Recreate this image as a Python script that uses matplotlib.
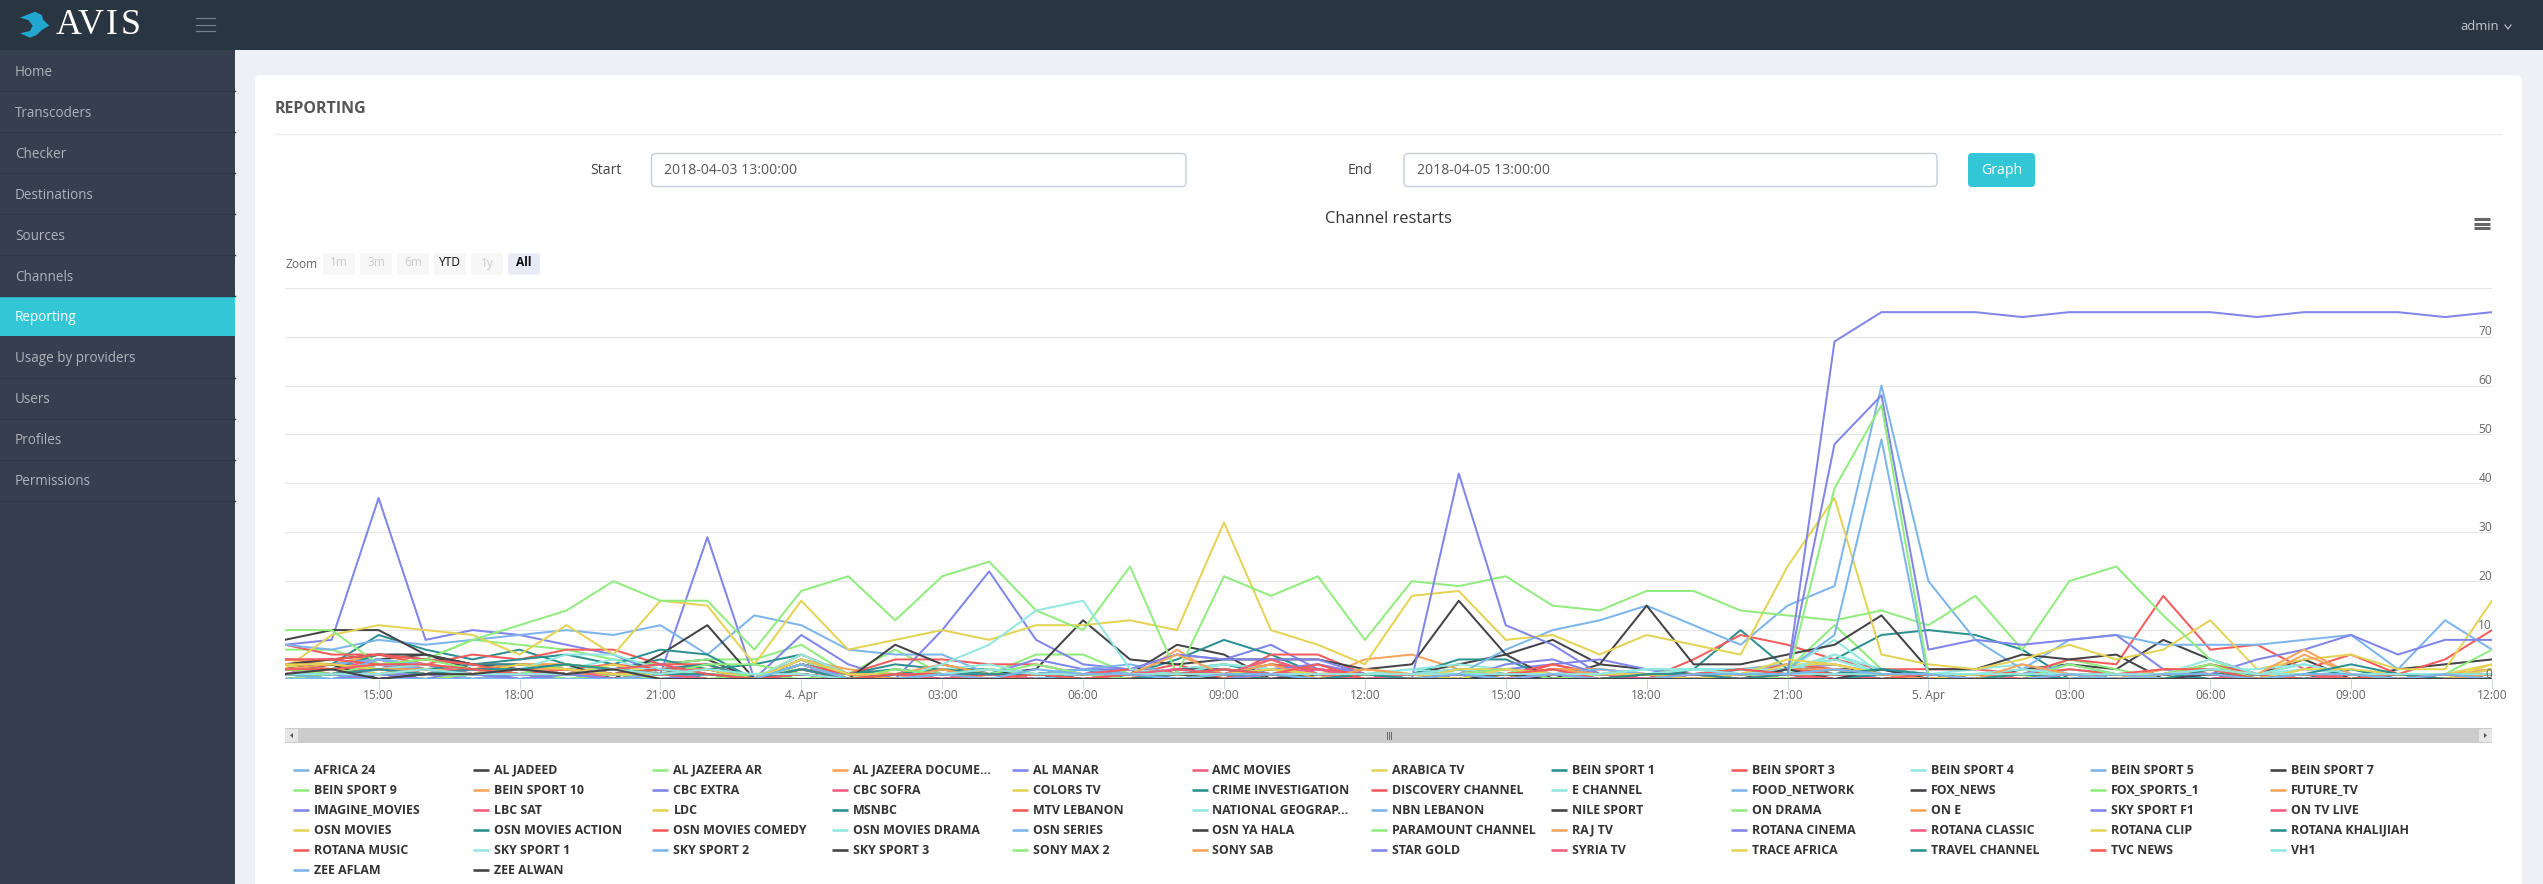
import matplotlib
matplotlib.use('Agg')
import matplotlib.pyplot as plt
from matplotlib.patches import FancyBboxPatch, Rectangle

plt.rcParams['font.family'] = ['Open Sans', 'DejaVu Sans']

# hourly restarts, 2018-04-03 13:00 to 2018-04-05 12:00
africa_24 = [2,1,2,1,1,0,1,1,0,0,0,2, 0,0,1,0,0,1,0,0,1,0,1,0, 0,0,1,1,0,0,1,0,1,2,1,0, 0,0,1,0,0,1,0,0,1,0,0,0]
al_jadeed = [3,3,4,5,3,2,2,2,3,4,0,3, 1,0,1,0,1,2,1,7,5,0,0,1, 1,3,5,8,3,2,1,0,1,2,2,0, 0,2,3,2,8,4,1,4,0,2,3,4]
al_jazeera_ar = [6,6,3,4,8,7,6,4,3,4,4,7, 1,6,1,1,5,5,1,0,1,0,1,1, 0,0,1,0,1,0,0,1,2,11,2,0, 1,0,4,2,0,1,0,0,1,0,0,1]
al_jazeera_doc = [3,3,5,3,2,3,3,1,2,1,0,4, 2,1,2,0,1,1,0,6,0,4,0,4, 5,2,0,2,2,1,0,1,1,1,1,0, 0,0,1,0,2,2,0,0,1,0,0,1]
al_manar = [7,8,37,8,10,9,7,5,1,29,0,9, 3,0,10,22,8,3,2,5,4,7,2,1, 1,1,2,3,4,2,0,0,1,1,2,0, 0,0,0,1,1,1,0,0,0,1,0,0]
amc_movies = [2,3,4,2,2,1,3,1,1,1,0,3, 1,0,1,1,0,0,1,1,0,2,3,1, 0,1,2,1,0,1,0,1,2,3,1,0, 0,1,0,0,1,1,0,1,0,0,1,0]
arabica_tv = [4,3,2,3,1,2,2,3,0,1,0,4, 0,2,1,0,1,1,1,1,2,0,1,0, 1,0,1,2,1,0,1,0,1,2,1,0, 1,0,1,1,0,2,0,1,1,0,1,2]
bein_sport_1 = [2,3,9,6,4,6,3,2,4,2,3,5, 1,3,2,2,1,1,1,4,8,5,1,1, 1,4,4,0,0,0,2,10,2,4,9,10, 9,6,0,0,0,1,0,0,1,0,0,0]
bein_sport_3 = [7,5,5,3,5,4,6,6,3,3,0,2, 1,4,4,3,3,1,1,3,0,5,5,1, 0,1,0,3,1,0,4,9,7,4,2,2, 2,1,4,3,17,6,7,2,5,1,4,10]
bein_sport_4 = [1,2,3,2,1,2,1,0,1,0,0,5, 1,0,0,2,1,1,2,1,3,2,0,1, 2,3,2,1,1,2,2,2,2,8,1,1, 2,3,1,0,0,2,1,0,1,1,0,1]
bein_sport_5 = [7,6,8,7,8,9,10,9,11,5,13,11, 6,5,5,1,1,2,3,1,1,2,1,1, 1,1,6,10,12,15,11,7,15,19,60,20, 8,2,8,9,7,7,7,8,9,2,12,6]
bein_sport_7 = [8,10,10,5,2,1,2,0,5,11,0,4, 0,7,3,1,2,12,4,3,4,4,4,2, 3,16,5,0,3,15,3,3,5,7,13,2, 2,5,4,5,0,0,0,0,1,1,0,0]
bein_sport_9 = [1,0,2,1,1,2,0,1,0,1,0,2, 0,0,1,0,1,0,0,2,1,0,0,1, 1,0,1,1,1,0,0,1,2,1,1,0, 0,0,1,1,0,1,1,0,0,0,1,1]
bein_sport_10 = [2,2,1,3,1,2,2,2,1,0,0,3, 1,0,2,1,1,0,1,2,1,2,1,0, 0,1,0,1,1,1,0,0,1,0,0,1, 1,1,0,0,1,1,0,2,1,0,1,2]
cbc_extra = [1,2,1,0,1,1,2,1,0,0,0,1, 0,0,0,1,1,1,0,1,0,1,0,0, 0,0,1,1,0,0,1,1,2,3,1,0, 0,1,1,0,0,0,1,0,1,0,0,1]
cbc_sofra = [3,2,4,2,1,3,2,1,1,0,0,2, 1,1,0,0,1,0,1,1,1,0,2,0, 0,1,1,0,0,1,1,0,1,1,0,1, 0,0,1,0,1,1,0,1,0,1,0,0]
colors_tv = [2,9,11,10,9,5,11,5,16,15,3,16, 6,8,10,8,11,11,12,10,32,10,7,3, 17,18,8,9,5,9,7,5,23,37,5,3, 2,4,7,4,6,12,2,4,5,2,2,16]
crime_investigation = [1,2,5,4,3,4,5,3,6,5,0,3, 1,2,1,1,1,2,0,1,1,3,2,1, 0,1,1,0,0,0,1,1,0,2,1,0, 1,1,0,0,1,1,0,1,1,0,0,0]
discovery_channel = [4,4,5,4,3,3,2,3,2,3,0,2, 1,1,0,1,0,1,2,1,1,1,0,0, 1,0,0,1,1,0,1,1,1,1,0,0, 0,1,1,0,1,2,0,0,1,0,1,0]
e_channel = [1,1,3,1,1,2,2,2,2,1,0,4, 1,0,1,1,1,0,1,1,2,1,2,0, 1,2,2,1,1,1,2,1,1,5,1,0, 1,1,0,1,1,3,1,2,1,0,1,0]
food_network = [2,3,4,2,0,1,1,2,0,1,0,3, 0,1,0,0,1,2,1,1,0,1,0,0, 1,1,0,2,1,0,1,1,2,1,0,0, 0,0,2,1,0,1,1,1,0,1,0,2]
fox_news = [1,1,0,1,1,1,0,0,1,2,0,1, 0,0,1,0,0,1,0,0,0,1,0,1, 0,0,1,0,0,1,0,0,2,2,1,0, 0,1,0,0,1,0,1,0,0,0,0,1]
fox_sports_1 = [10,10,3,4,8,11,14,20,16,16,6,18, 21,12,21,24,14,10,23,1,21,17,21,8, 20,19,21,15,14,18,18,14,13,12,14,11, 17,6,20,23,13,4,0,0,1,0,1,6]
future_tv = [3,2,1,2,2,3,3,2,1,1,0,5, 1,0,2,1,0,1,1,2,1,3,1,2, 1,1,0,1,1,0,0,0,1,2,0,0, 0,1,0,0,2,1,0,5,1,1,0,1]
imagine_movies = [1,2,3,1,0,1,2,1,0,0,0,3, 1,0,0,1,4,2,2,5,4,4,4,1, 0,42,11,7,1,0,1,0,1,1,2,1, 0,0,1,0,0,1,0,0,1,0,0,0]
lbc_sat = [2,1,0,1,2,1,1,0,1,0,0,2, 0,1,1,0,0,1,0,1,1,1,2,0, 0,0,1,1,0,0,0,1,1,1,0,0, 0,0,1,0,0,0,1,0,1,0,1,0]
ldc = [1,2,1,2,1,2,2,2,1,1,0,3, 0,1,0,0,1,1,1,0,1,1,1,1, 1,2,1,0,1,0,1,2,3,2,1,0, 1,0,1,1,0,2,1,1,0,1,0,2]
msnbc = [2,1,3,3,1,2,1,1,2,3,0,4, 0,1,1,1,0,0,1,2,3,1,1,0, 0,2,1,0,0,0,1,1,1,2,0,1, 0,1,1,0,0,1,1,0,1,0,0,1]
mtv_lebanon = [3,4,3,2,1,0,1,1,2,2,0,1, 0,1,2,0,0,1,1,0,1,2,1,0, 1,0,1,2,1,1,1,0,1,1,0,0, 1,1,0,0,0,1,0,1,1,0,1,0]
national_geo = [2,1,1,2,2,1,2,4,1,1,0,4, 0,0,2,3,1,1,1,2,3,2,1,1, 2,1,2,1,1,2,2,1,1,2,1,1, 1,2,1,1,0,3,1,1,0,1,1,1]
nbn_lebanon = [1,1,4,3,1,0,1,1,1,0,0,2, 0,0,1,1,0,1,2,1,0,0,1,0, 0,1,2,0,0,1,0,2,3,2,0,0, 0,1,1,0,1,1,0,0,2,0,0,1]
nile_sport = [3,4,5,5,3,2,1,1,2,1,0,3, 0,1,0,1,0,1,0,2,2,0,1,0, 0,0,1,1,1,0,0,1,1,0,0,1, 0,0,1,1,0,1,1,0,0,1,0,0]
on_drama = [1,0,1,0,1,1,0,0,1,3,3,1, 0,1,1,0,1,0,0,1,1,0,0,1, 0,1,0,0,1,1,0,0,1,1,0,0, 0,1,0,0,1,1,1,0,0,0,1,0]
on_e = [2,2,3,2,2,3,2,2,1,1,0,3, 1,1,1,0,0,1,0,1,0,1,1,0, 0,1,0,2,2,1,1,0,0,1,1,0, 1,0,0,1,1,2,0,1,1,0,0,1]
sky_sport_f1 = [0,1,1,1,0,1,0,0,1,0,0,1, 0,0,0,1,0,0,1,0,1,0,0,0, 0,0,1,2,0,0,0,1,1,2,1,0, 0,0,1,0,0,0,0,1,1,0,0,1]
on_tv_live = [1,3,2,1,1,2,2,1,0,1,0,2, 1,1,0,0,0,1,1,1,1,0,2,1, 0,0,1,1,0,0,1,0,1,1,0,0, 0,1,0,0,1,1,0,0,1,0,1,0]
osn_movies = [3,1,0,0,1,2,2,2,0,1,0,3, 0,1,2,1,1,0,0,1,1,2,0,1, 1,0,1,1,0,1,0,1,2,1,1,1, 0,1,1,0,1,1,0,1,0,1,0,3]
osn_action = [0,1,3,2,1,2,1,0,1,1,0,3, 1,0,0,0,1,1,0,1,1,0,1,0, 1,2,1,0,0,0,1,0,1,1,2,1, 0,0,1,0,1,0,0,0,1,1,0,0]
osn_comedy = [2,1,3,1,2,1,1,1,2,1,0,3, 0,0,1,0,0,1,0,2,1,3,2,1, 0,1,1,3,1,0,1,1,3,2,1,0, 0,1,2,1,1,1,0,1,0,0,1,1]
osn_drama = [1,2,2,1,1,1,2,2,1,1,0,5, 1,0,1,1,1,1,1,1,2,1,1,1, 1,2,1,1,1,2,2,2,2,4,1,1, 1,1,1,1,1,2,2,3,1,1,1,1]
osn_series = [1,1,3,2,0,1,1,1,1,0,0,4, 1,0,0,1,1,2,1,0,1,1,1,0, 1,1,1,0,1,0,0,1,2,1,0,0, 0,1,3,1,0,1,1,0,1,0,1,0]
osn_ya_hala = [2,3,0,1,2,2,3,0,1,2,0,1, 0,0,1,0,1,0,1,0,1,1,0,1, 0,1,0,1,0,1,0,0,2,1,0,0, 0,1,0,0,1,2,0,0,0,1,0,0]
paramount = [0,1,1,0,1,2,0,1,0,1,1,0, 1,0,2,1,0,1,0,1,0,1,0,0, 1,0,1,0,1,0,1,0,1,1,1,1, 0,0,3,1,0,3,1,0,1,0,1,0]
raj_tv = [1,1,1,2,2,2,1,1,1,2,0,2, 0,1,3,1,0,1,0,1,2,1,0,1, 0,0,1,2,2,1,0,1,2,2,1,1, 0,1,0,0,2,1,1,1,0,0,1,0]
sky_sport_2 = [1,0,2,1,1,2,1,0,1,0,0,2, 0,0,1,1,0,1,1,0,1,1,0,0, 1,0,1,1,2,1,0,0,2,9,49,0, 0,1,0,1,0,1,0,0,1,1,0,0]
rotana_cinema = [2,1,0,1,1,0,1,2,3,1,0,2, 1,0,1,0,0,1,2,0,1,2,3,1, 0,0,3,4,1,0,1,0,1,48,58,6, 8,7,8,9,2,1,4,6,9,5,8,8]
rotana_classic = [1,2,2,3,1,1,2,0,1,2,0,3, 0,0,1,1,1,0,0,1,2,1,2,1, 0,1,0,1,1,0,0,1,0,1,0,0, 1,0,0,0,1,2,0,1,0,0,0,1]
rotana_clip = [2,2,1,0,2,2,1,3,1,2,0,3, 1,0,1,2,1,0,1,1,0,1,1,1, 0,2,2,1,0,0,1,0,3,3,1,0, 1,1,0,0,0,2,0,1,1,0,1,1]
rotana_khalijiah = [1,1,2,2,3,3,2,1,2,0,0,3, 1,1,2,1,0,1,1,0,1,1,0,0, 1,1,1,0,0,1,1,2,1,0,1,1, 0,1,0,1,1,1,1,0,2,0,1,0]
rotana_music = [4,4,5,4,3,1,2,1,2,1,0,3, 1,0,0,1,1,1,2,1,0,1,1,0, 0,1,2,1,0,0,1,1,2,1,1,1, 0,0,1,1,1,3,1,0,0,1,1,1]
sky_sport_1 = [1,1,2,3,2,2,5,5,2,1,0,3, 0,0,3,7,14,16,2,1,3,2,1,1, 1,1,2,1,0,1,2,1,2,5,2,1, 1,2,1,0,1,4,1,3,1,1,1,1]
sky_sport_3 = [2,3,0,1,2,2,1,2,1,0,0,2, 0,0,1,0,1,0,0,1,0,0,1,0, 0,0,1,0,0,1,1,0,2,0,2,0, 0,0,1,0,0,1,0,0,0,0,0,1]
sony_max_2 = [2,1,3,4,2,1,3,2,1,0,1,2, 0,2,1,1,3,1,0,0,1,1,1,1, 1,1,2,0,1,1,1,1,0,39,56,1, 1,1,0,0,1,3,0,1,1,0,0,1]
sony_sab = [2,3,2,2,1,2,2,1,1,0,0,4, 1,0,2,0,1,1,1,5,1,3,0,2, 1,1,1,2,1,1,0,0,1,2,1,0, 0,3,1,0,1,2,1,6,1,1,0,1]
star_gold = [0,0,1,0,2,0,1,0,0,1,0,1, 0,0,1,0,1,0,1,0,0,1,0,0, 0,1,0,1,0,0,1,1,1,69,75,75, 75,74,75,75,75,75,74,75,75,75,74,75]
syria_tv = [1,1,2,1,2,2,1,2,1,0,0,2, 0,1,0,1,0,0,1,2,1,4,1,0, 1,0,0,1,0,1,1,0,1,0,0,0, 0,0,1,1,1,1,0,0,1,0,0,0]
trace_africa = [3,3,2,1,1,3,2,1,1,1,0,4, 1,1,1,0,1,1,1,1,1,2,1,1, 1,0,2,1,1,1,0,1,4,3,1,1, 0,1,1,0,1,2,0,2,2,1,1,3]
travel_channel = [1,1,2,1,2,2,3,2,1,1,0,2, 0,1,1,1,1,0,0,1,2,1,0,1, 0,1,0,0,0,1,1,0,1,1,2,1, 0,1,0,0,0,2,0,1,3,1,0,0]
tvc_news = [2,2,3,3,2,1,1,2,3,1,0,1, 0,1,1,0,1,0,1,1,2,1,3,0, 0,1,1,2,0,0,1,2,1,0,0,1, 0,0,1,1,2,2,0,1,0,0,1,1]
vh1 = [1,1,1,2,1,1,1,2,1,2,1,1, 0,0,1,2,1,1,1,1,1,1,1,1, 1,1,1,1,1,2,2,1,1,1,1,1, 1,1,1,1,1,2,1,1,1,1,1,1]
zee_aflam = [0,0,0,0,0,0,0,0,0,0,0,3, 0,0,1,0,2,1,1,0,1,1,0,0, 0,1,0,1,0,0,1,1,1,2,1,1, 0,0,1,0,1,1,0,1,1,0,1,0]
zee_alwan = [1,2,0,1,1,2,1,2,0,0,0,0, 0,0,0,0,0,0,0,0,0,0,0,0, 0,0,0,0,0,0,0,0,0,0,0,0, 0,0,0,0,0,0,0,0,0,0,0,0]

series_names = ['AFRICA 24', 'AL JADEED', 'AL JAZEERA AR', 'AL JAZEERA DOCUME...', 'AL MANAR', 'AMC MOVIES',
                'ARABICA TV', 'BEIN SPORT 1', 'BEIN SPORT 3', 'BEIN SPORT 4', 'BEIN SPORT 5', 'BEIN SPORT 7',
                'BEIN SPORT 9', 'BEIN SPORT 10', 'CBC EXTRA', 'CBC SOFRA', 'COLORS TV', 'CRIME INVESTIGATION',
                'DISCOVERY CHANNEL', 'E CHANNEL', 'FOOD_NETWORK', 'FOX_NEWS', 'FOX_SPORTS_1', 'FUTURE_TV',
                'IMAGINE_MOVIES', 'LBC SAT', 'LDC', 'MSNBC', 'MTV LEBANON', 'NATIONAL GEOGRAP...',
                'NBN LEBANON', 'NILE SPORT', 'ON DRAMA', 'ON E', 'SKY SPORT F1', 'ON TV LIVE',
                'OSN MOVIES', 'OSN MOVIES ACTION', 'OSN MOVIES COMEDY', 'OSN MOVIES DRAMA', 'OSN SERIES', 'OSN YA HALA',
                'PARAMOUNT CHANNEL', 'RAJ TV', 'ROTANA CINEMA', 'ROTANA CLASSIC', 'ROTANA CLIP', 'ROTANA KHALIJIAH',
                'ROTANA MUSIC', 'SKY SPORT 1', 'SKY SPORT 2', 'SKY SPORT 3', 'SONY MAX 2', 'SONY SAB',
                'STAR GOLD', 'SYRIA TV', 'TRACE AFRICA', 'TRAVEL CHANNEL', 'TVC NEWS', 'VH1',
                'ZEE AFLAM', 'ZEE ALWAN']
series_values = [africa_24, al_jadeed, al_jazeera_ar, al_jazeera_doc, al_manar, amc_movies,
                 arabica_tv, bein_sport_1, bein_sport_3, bein_sport_4, bein_sport_5, bein_sport_7,
                 bein_sport_9, bein_sport_10, cbc_extra, cbc_sofra, colors_tv, crime_investigation,
                 discovery_channel, e_channel, food_network, fox_news, fox_sports_1, future_tv,
                 imagine_movies, lbc_sat, ldc, msnbc, mtv_lebanon, national_geo,
                 nbn_lebanon, nile_sport, on_drama, on_e, sky_sport_f1, on_tv_live,
                 osn_movies, osn_action, osn_comedy, osn_drama, osn_series, osn_ya_hala,
                 paramount, raj_tv, rotana_cinema, rotana_classic, rotana_clip, rotana_khalijiah,
                 rotana_music, sky_sport_1, sky_sport_2, sky_sport_3, sony_max_2, sony_sab,
                 star_gold, syria_tv, trace_africa, travel_channel, tvc_news, vh1,
                 zee_aflam, zee_alwan]
palette = ['#7cb5ec', '#434348', '#90ed7d', '#f7a35c', '#8085e9', '#f15c80', '#e4d354', '#2b908f', '#f45b5b', '#91e8e1']

hours = list(range(48))
x_ticks = [2, 5, 8, 11, 14, 17, 20, 23, 26, 29, 32, 35, 38, 41, 44, 47]
x_labels = ['15:00', '18:00', '21:00', '4. Apr', '03:00', '06:00', '09:00', '12:00',
            '15:00', '18:00', '21:00', '5. Apr', '03:00', '06:00', '09:00', '12:00']
y_ticks = [0, 10, 20, 30, 40, 50, 60, 70]
menu_items = ['Home', 'Transcoders', 'Checker', 'Destinations', 'Sources', 'Channels',
              'Reporting', 'Usage by providers', 'Users', 'Profiles', 'Permissions']
zoom_buttons = ['1m', '3m', '6m', 'YTD', '1y', 'All']

W, H = 2543, 884


def pt(px):
    return px * 72 / 100


def box(ax, x0, y0, x1, y1, color, edge='none', r=0, z=1):
    ax.add_patch(FancyBboxPatch((x0, y0), x1 - x0, y1 - y0, boxstyle='round,pad=0,rounding_size=%g' % max(r, 0.01),
                                fc=color, ec=edge, lw=1, zorder=z))


fig = plt.figure(figsize=(W / 100, H / 100), dpi=100, facecolor='#edf0f5')

# page furniture, in pixel coordinates
bg = fig.add_axes([0, 0, 1, 1])
bg.set_xlim(0, W)
bg.set_ylim(H, 0)
bg.axis('off')

bg.add_patch(Rectangle((0, 0), W, 50, fc='#2a3542', ec='none'))
bg.add_patch(Rectangle((0, 50), 235, H - 50, fc='#353f4f', ec='none'))
bird_x = [35, 41.7, 43.3, 49.3, 41.7, 36.7, 30, 20, 30, 32.7, 28.3, 20, 28.3]
bird_y = [11.7, 15, 20, 25.7, 30, 35, 37.7, 33.3, 31, 25.7, 20, 17.7, 14.3]
bg.fill(bird_x, bird_y, color='#22a7d0', lw=0)
for x, letter in zip([56, 78, 106, 120.5], 'AVIS'):
    bg.text(x, 25, letter, color='white', fontsize=pt(36), family='Liberation Serif', va='center', ha='left')
for y in [18, 24.5, 31]:
    bg.plot([196, 215], [y, y], color='#75808c', lw=0.9)
bg.text(2460, 27, 'admin', color='#c3c8ce', fontsize=pt(13), va='center')
bg.plot([2505, 2508, 2511], [25, 29, 25], color='#c3c8ce', lw=0.8)

# sidebar
for i, item in enumerate(menu_items):
    y = 72.5 + 41 * i - (1 if i >= 6 else 0)
    if i == 6:
        bg.add_patch(Rectangle((0, 296), 235, 40, fc='#33c6d6', ec='none'))
    else:
        bg.plot([0, 235], [50 + 41 * (i + 1)] * 2, color='#2f3847', lw=1)
    bg.text(15, y, item, color='white' if i == 6 else '#aeb3ba', fontsize=pt(13.5), va='center')

# card and form
box(bg, 255, 75, 2522, H + 10, 'white', r=6)
bg.text(275, 109, 'REPORTING', color='#555555', fontsize=pt(16), fontweight='bold', va='center')
bg.plot([275, 2502], [134, 134], color='#eeeeee', lw=1)
bg.text(590, 171, 'Start', color='#444444', fontsize=pt(14), va='center')
box(bg, 651.5, 153.5, 1186, 186.5, 'white', edge='#c5cdda', r=4, z=2)
bg.text(664, 170, '2018-04-03 13:00:00', color='#555555', fontsize=pt(14), va='center', zorder=3)
bg.text(1348, 171, 'End', color='#444444', fontsize=pt(14), va='center')
box(bg, 1404, 153.5, 1937, 186.5, 'white', edge='#c5cdda', r=4, z=2)
bg.text(1417, 170, '2018-04-05 13:00:00', color='#555555', fontsize=pt(14), va='center', zorder=3)
box(bg, 1968, 153, 2035, 187, '#33c6d6', r=4, z=2)
bg.text(2001.5, 170, 'Graph', color='white', fontsize=pt(14), va='center', ha='center', zorder=3)

bg.text(1388, 219, 'Channel restarts', color='#333333', fontsize=pt(16.5), va='center', ha='center')
for y in [219, 223.5, 228]:
    bg.plot([2474, 2490], [y, y], color='#666666', lw=2.2, solid_capstyle='butt')

# range selector
bg.text(285, 264, 'Zoom', color='#666666', fontsize=pt(12), va='center')
for i, label in enumerate(zoom_buttons):
    x0 = 323 + 37 * i
    active = label == 'All'
    enabled = label in ('YTD', 'All')
    box(bg, x0, 253, x0 + 32, 275, '#e6ebf5' if active else '#f7f7f7', r=2, z=2)
    bg.text(x0 + 16, 263, label, color='#111111' if enabled else '#cccccc', fontsize=pt(12),
            fontweight='bold' if active else 'normal', va='center', ha='center', zorder=3)

# navigator scrollbar
bg.add_patch(Rectangle((284.5, 728), 2207.5, 15, fc='#cccccc', ec='none'))
bg.add_patch(Rectangle((284.5, 729), 13.5, 13, fc='#e6e6e6', ec='none'))
bg.add_patch(Rectangle((2479, 729), 13, 13, fc='#e6e6e6', ec='none'))
bg.fill([293, 293, 290], [733, 738, 735.5], color='#555555', lw=0)
bg.fill([2484, 2484, 2487], [733, 738, 735.5], color='#555555', lw=0)
for x in [1386.5, 1388.5, 1390.5]:
    bg.plot([x, x], [732, 739], color='#666666', lw=0.7)

# legend
for i, name in enumerate(series_names):
    x0 = 293 + 179.7 * (i % 12)
    y = 770 + 20 * (i // 12)
    bg.plot([x0, x0 + 16], [y, y], color=palette[i % 10], lw=pt(2.6), solid_capstyle='butt')
    bg.text(x0 + 21, y, name, color='#333333', fontsize=pt(12.4), fontweight='bold', va='center')

bg.set_xlim(0, W)
bg.set_ylim(H, 0)

# the chart itself
ax = fig.add_axes([284.7 / W, (H - 679) / H, 2207.3 / W, (679 - 287.7) / H], facecolor='none')
for i, values in enumerate(series_values):
    ax.plot(hours, values, color=palette[i % 10], lw=pt(2), solid_joinstyle='round', zorder=3 + i * 0.01)
ax.set_xlim(0, 47)
ax.set_ylim(0, 80)
ax.set_yticks(list(range(0, 81, 10)))
ax.yaxis.grid(True, color='#e6e6e6', lw=pt(1.2))
ax.set_axisbelow(True)
ax.tick_params(axis='y', length=0, labelleft=False)
for v in y_ticks:
    ax.annotate(str(v), (47, v), xytext=(0, pt(5)), textcoords='offset points', ha='right', va='center',
                color='#666666', fontsize=pt(12), zorder=10, annotation_clip=False)
ax.set_xticks(x_ticks)
ax.set_xticklabels(x_labels, color='#666666', fontsize=pt(12))
ax.tick_params(axis='x', length=pt(10), width=pt(1), color='#ccd6eb', pad=0)
for s in ax.spines.values():
    s.set_visible(False)

fig.savefig('out.png', dpi=100, facecolor=fig.get_facecolor())
